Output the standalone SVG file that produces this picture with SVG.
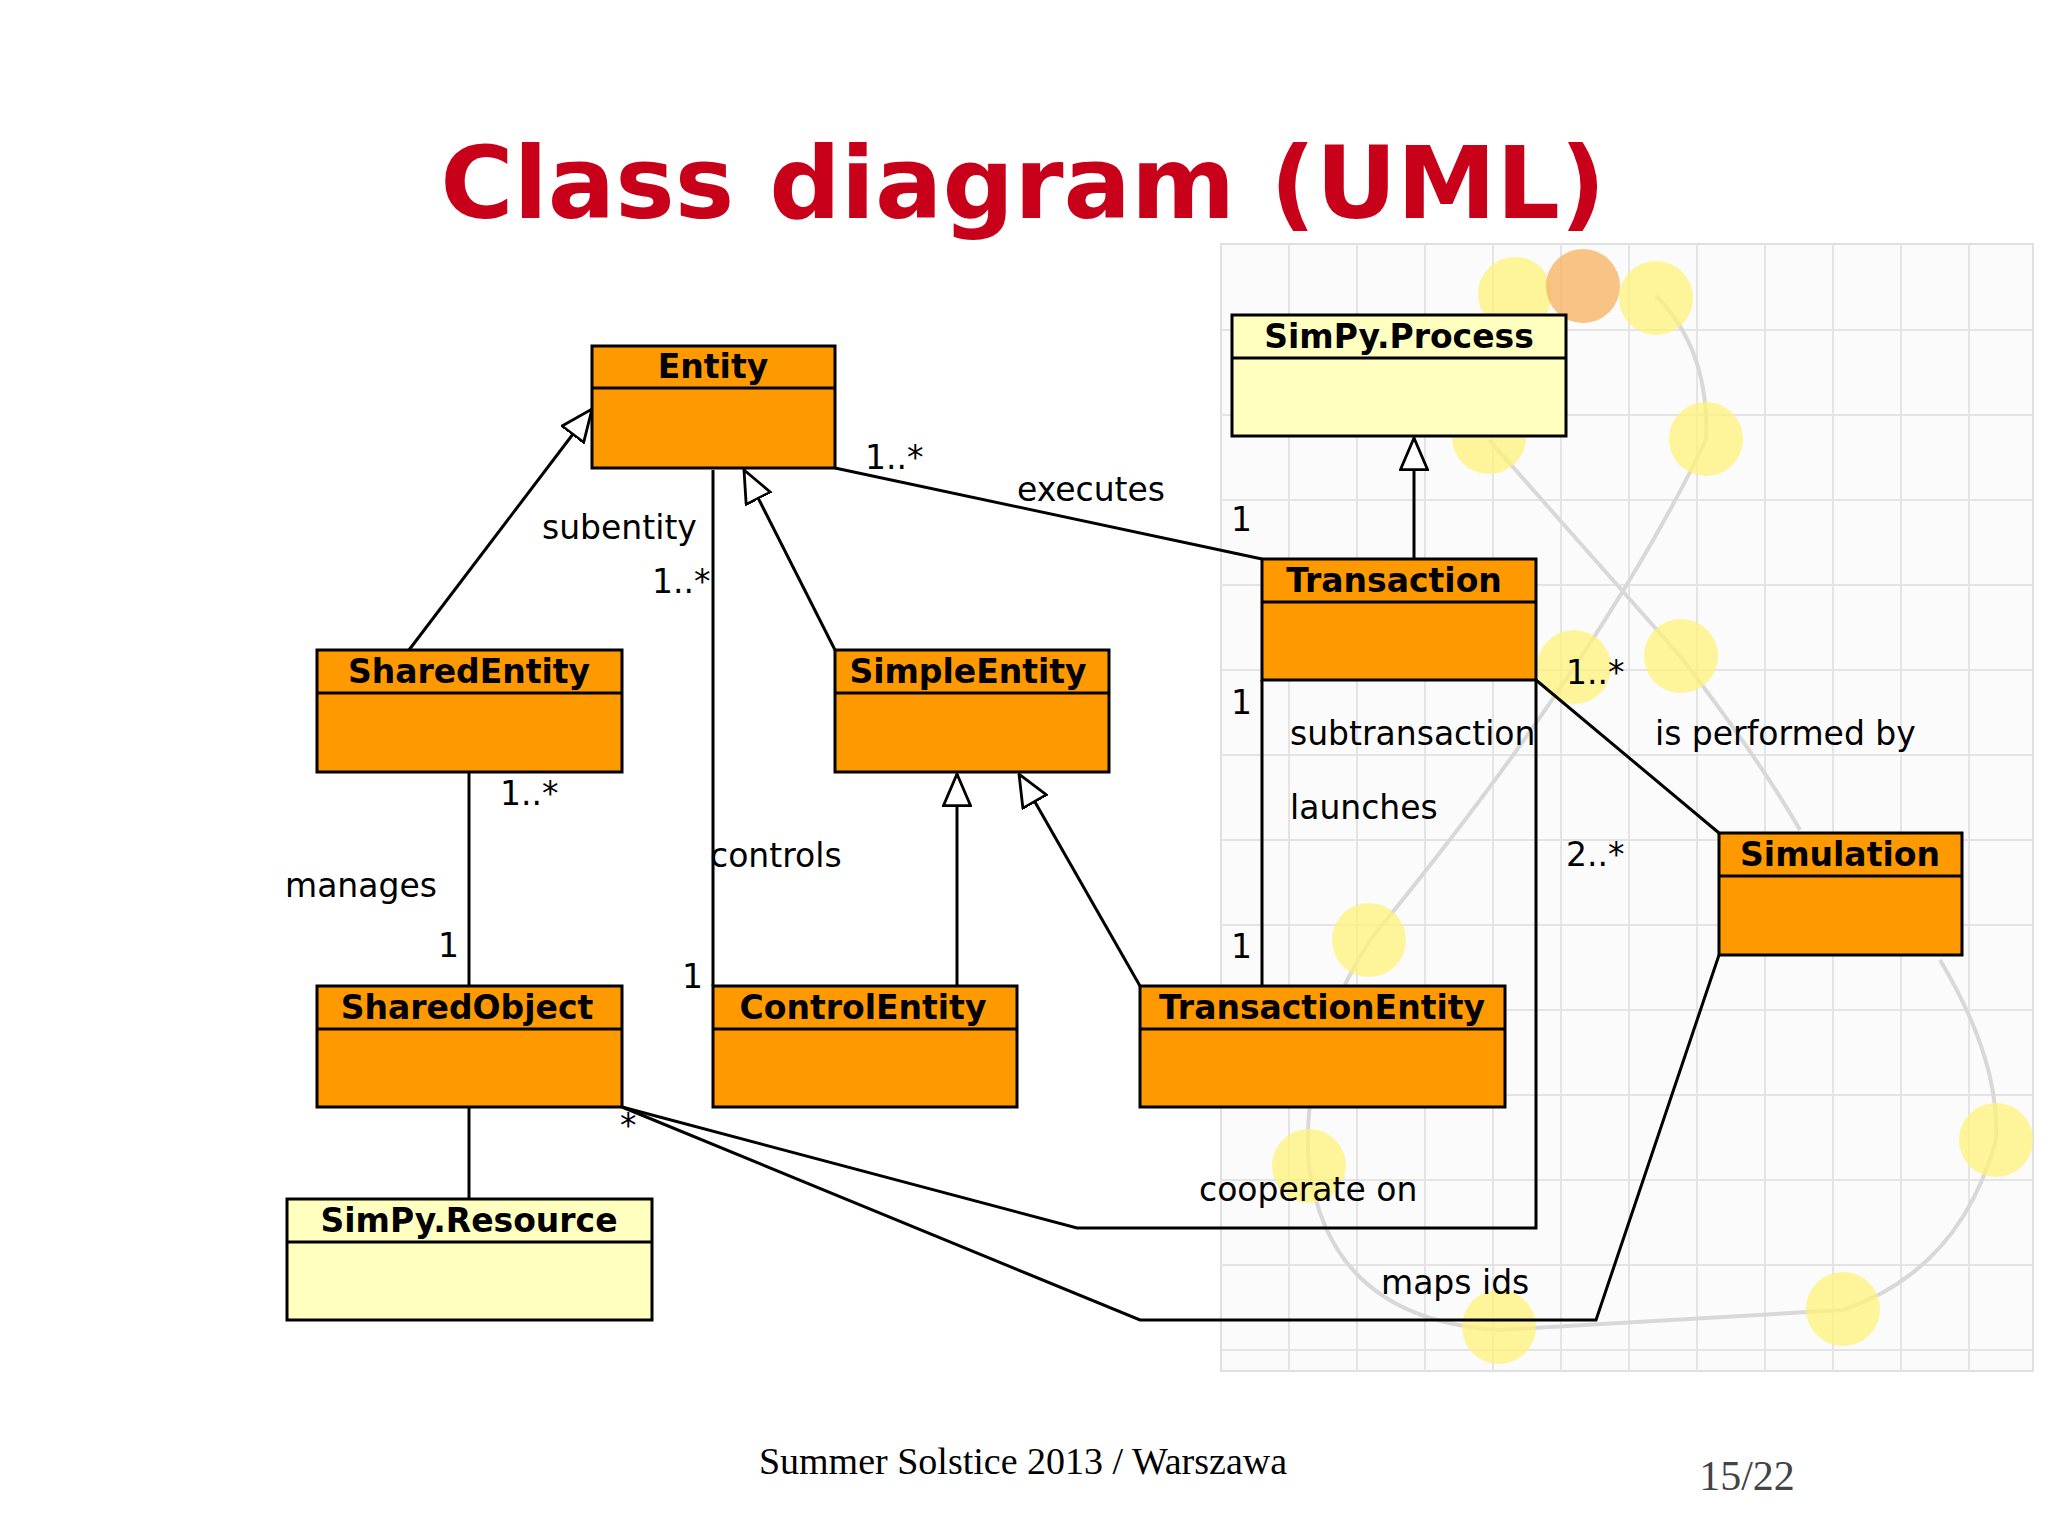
<svg xmlns="http://www.w3.org/2000/svg" width="2048" height="1535" viewBox="0 0 2048 1535">
<style>
.o{fill:#ff9900;stroke:#000;stroke-width:3}
.y{fill:#ffffc0;stroke:#000;stroke-width:3}
.h{font-family:"DejaVu Sans",sans-serif;font-weight:bold;font-size:33px;text-anchor:middle;fill:#000}
.l{font-family:"DejaVu Sans",sans-serif;font-size:33px;fill:#000}
.c{fill:none;stroke:#000;stroke-width:3}
.g{stroke:#e4e4e4;stroke-width:2}
.dot{fill:#fff27a;opacity:0.75}
.bg{fill:none;stroke:#d8d8d8;stroke-width:4}
</style>
<defs>
<marker id="tri" viewBox="0 0 30 26" refX="29" refY="13" markerWidth="34" markerHeight="30" markerUnits="userSpaceOnUse" orient="auto">
<path d="M1,1 L29,13 L1,25 Z" fill="#fff" stroke="#000" stroke-width="2.5"/>
</marker>
</defs>
<rect width="2048" height="1535" fill="#fff"/>
<g id="background">
<rect x="1221" y="244" width="812" height="1127" fill="#fbfbfb" stroke="#e0e0e0" stroke-width="2"/>
<g class="g">
<line x1="1289" y1="244" x2="1289" y2="1371"/><line x1="1357" y1="244" x2="1357" y2="1371"/><line x1="1425" y1="244" x2="1425" y2="1371"/><line x1="1493" y1="244" x2="1493" y2="1371"/><line x1="1561" y1="244" x2="1561" y2="1371"/><line x1="1629" y1="244" x2="1629" y2="1371"/><line x1="1697" y1="244" x2="1697" y2="1371"/><line x1="1765" y1="244" x2="1765" y2="1371"/><line x1="1833" y1="244" x2="1833" y2="1371"/><line x1="1901" y1="244" x2="1901" y2="1371"/><line x1="1969" y1="244" x2="1969" y2="1371"/>
<line x1="1221" y1="330" x2="2033" y2="330"/><line x1="1221" y1="415" x2="2033" y2="415"/><line x1="1221" y1="500" x2="2033" y2="500"/><line x1="1221" y1="585" x2="2033" y2="585"/><line x1="1221" y1="670" x2="2033" y2="670"/><line x1="1221" y1="755" x2="2033" y2="755"/><line x1="1221" y1="840" x2="2033" y2="840"/><line x1="1221" y1="925" x2="2033" y2="925"/><line x1="1221" y1="1010" x2="2033" y2="1010"/><line x1="1221" y1="1095" x2="2033" y2="1095"/><line x1="1221" y1="1180" x2="2033" y2="1180"/><line x1="1221" y1="1265" x2="2033" y2="1265"/><line x1="1221" y1="1350" x2="2033" y2="1350"/>
</g>
<path class="bg" d="M1489,440 Q1560,520 1680,656 M1706,440 Q1600,660 1370,940 M1656,296 Q1710,350 1706,440 M1680,656 Q1760,760 1800,830 M1940,960 Q2000,1060 1996,1140 Q1960,1270 1843,1310 L1500,1330 Q1330,1320 1309,1166 Q1300,1050 1370,940"/>
<circle class="dot" cx="1515" cy="294" r="37"/>
<circle cx="1583" cy="286" r="37" fill="#f7b870" opacity="0.85"/>
<circle class="dot" cx="1656" cy="298" r="37"/>
<circle class="dot" cx="1706" cy="439" r="37"/>
<circle class="dot" cx="1489" cy="437" r="37"/>
<circle class="dot" cx="1574" cy="667" r="37"/>
<circle class="dot" cx="1681" cy="656" r="37"/>
<circle class="dot" cx="1369" cy="940" r="37"/>
<circle class="dot" cx="1309" cy="1166" r="37"/>
<circle class="dot" cx="1499" cy="1327" r="37"/>
<circle class="dot" cx="1843" cy="1309" r="37"/>
<circle class="dot" cx="1996" cy="1140" r="37"/>
</g>
<text x="1023" y="218" font-family="DejaVu Sans,sans-serif" font-weight="bold" font-size="100" fill="#c8001a" text-anchor="middle">Class diagram (UML)</text>
<g id="connectors">
<line class="c" x1="409" y1="650" x2="592" y2="409" marker-end="url(#tri)"/>
<line class="c" x1="835" y1="650" x2="744" y2="470" marker-end="url(#tri)"/>
<line class="c" x1="713" y1="470" x2="713" y2="986"/>
<line class="c" x1="835" y1="468" x2="1262" y2="559"/>
<line class="c" x1="1414" y1="559" x2="1414" y2="438" marker-end="url(#tri)"/>
<line class="c" x1="1262" y1="680" x2="1262" y2="986"/>
<line class="c" x1="1536" y1="680" x2="1719" y2="833"/>
<line class="c" x1="957" y1="986" x2="957" y2="774" marker-end="url(#tri)"/>
<line class="c" x1="1140" y1="986" x2="1019" y2="774" marker-end="url(#tri)"/>
<line class="c" x1="469" y1="772" x2="469" y2="986"/>
<line class="c" x1="469" y1="1107" x2="469" y2="1199"/>
<polyline class="c" points="622,1107 1077,1228 1536,1228 1536,680"/>
<polyline class="c" points="622,1107 1140,1320 1596,1320 1719,955"/>
</g>
<g id="labels">
<text class="l" x="542" y="539">subentity</text>
<text class="l" x="652" y="593">1..*</text>
<text class="l" x="710" y="867">controls</text>
<text class="l" x="682" y="988">1</text>
<text class="l" x="865" y="469">1..*</text>
<text class="l" x="1017" y="501">executes</text>
<text class="l" x="1231" y="531">1</text>
<text class="l" x="1231" y="714">1</text>
<text class="l" x="1231" y="958">1</text>
<text class="l" x="1290" y="745">subtransaction</text>
<text class="l" x="1290" y="819">launches</text>
<text class="l" x="1566" y="684">1..*</text>
<text class="l" x="1655" y="745">is performed by</text>
<text class="l" x="1566" y="866">2..*</text>
<text class="l" x="500" y="805">1..*</text>
<text class="l" x="285" y="897">manages</text>
<text class="l" x="438" y="957">1</text>
<text class="l" x="620" y="1137">*</text>
<text class="l" x="1199" y="1201">cooperate on</text>
<text class="l" x="1381" y="1294">maps ids</text>
</g>
<g id="Entity"><rect class="o" x="592" y="346" width="243" height="122"/><line class="c" x1="592" y1="388" x2="835" y2="388"/><text class="h" x="713" y="378">Entity</text></g>
<g id="SimPyProcess"><rect class="y" x="1232" y="315" width="334" height="121"/><line class="c" x1="1232" y1="358" x2="1566" y2="358"/><text class="h" x="1399" y="348">SimPy.Process</text></g>
<g id="Transaction"><rect class="o" x="1262" y="559" width="274" height="121"/><line class="c" x1="1262" y1="602" x2="1536" y2="602"/><text class="h" x="1394" y="592">Transaction</text></g>
<g id="SharedEntity"><rect class="o" x="317" y="650" width="305" height="122"/><line class="c" x1="317" y1="693" x2="622" y2="693"/><text class="h" x="469" y="683">SharedEntity</text></g>
<g id="SimpleEntity"><rect class="o" x="835" y="650" width="274" height="122"/><line class="c" x1="835" y1="693" x2="1109" y2="693"/><text class="h" x="968" y="683">SimpleEntity</text></g>
<g id="Simulation"><rect class="o" x="1719" y="833" width="243" height="122"/><line class="c" x1="1719" y1="876" x2="1962" y2="876"/><text class="h" x="1840" y="866">Simulation</text></g>
<g id="SharedObject"><rect class="o" x="317" y="986" width="305" height="121"/><line class="c" x1="317" y1="1029" x2="622" y2="1029"/><text class="h" x="467" y="1019">SharedObject</text></g>
<g id="ControlEntity"><rect class="o" x="713" y="986" width="304" height="121"/><line class="c" x1="713" y1="1029" x2="1017" y2="1029"/><text class="h" x="863" y="1019">ControlEntity</text></g>
<g id="TransactionEntity"><rect class="o" x="1140" y="986" width="365" height="121"/><line class="c" x1="1140" y1="1029" x2="1505" y2="1029"/><text class="h" x="1322" y="1019">TransactionEntity</text></g>
<g id="SimPyResource"><rect class="y" x="287" y="1199" width="365" height="121"/><line class="c" x1="287" y1="1242" x2="652" y2="1242"/><text class="h" x="469" y="1232">SimPy.Resource</text></g>
<text x="1023" y="1474" font-family="Liberation Serif,serif" font-size="38" text-anchor="middle" fill="#000">Summer Solstice 2013 / Warszawa</text>
<text x="1747" y="1490" font-family="Liberation Serif,serif" font-size="42" text-anchor="middle" fill="#444">15/22</text>
</svg>
